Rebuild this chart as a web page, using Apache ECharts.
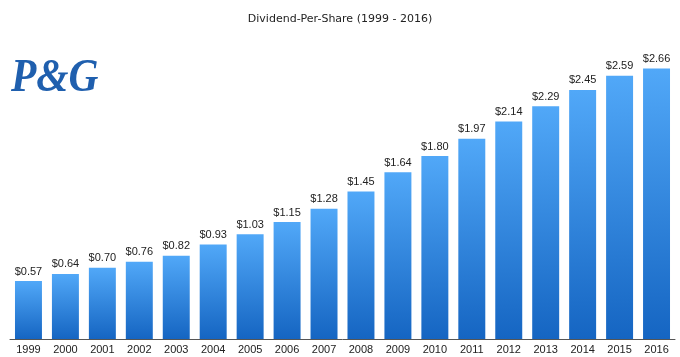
<!DOCTYPE html>
<html>
<head>
<meta charset="utf-8">
<script src="https://cdn.jsdelivr.net/npm/echarts@6/dist/echarts.min.js"></script>
<style>html,body{margin:0;padding:0;background:#fff;}#c{width:680px;height:357px;}</style>
</head>
<body>
<div id="c"></div>
<script>
const years = ['1999','2000','2001','2002','2003','2004','2005','2006','2007','2008','2009','2010','2011','2012','2013','2014','2015','2016'];
const dividends = [0.57,0.64,0.70,0.76,0.82,0.93,1.03,1.15,1.28,1.45,1.64,1.80,1.97,2.14,2.29,2.45,2.59,2.66];
const titleText = 'Dividend-Per-Share (1999 - 2016)';
const logoText = 'P&G';

const chart = echarts.init(document.getElementById('c'), null, {renderer:'canvas'});
chart.setOption({
  animation:false,
  backgroundColor:'#fff',
  title:{text:titleText,left:'center',top:9,textStyle:{fontFamily:'DejaVu Sans',fontSize:11,fontWeight:'normal',color:'#222'}},
  graphic:[{type:'text',x:11,y:56,scaleX:0.9,style:{text:logoText,fontFamily:'Liberation Serif',fontStyle:'italic',fontWeight:'bold',fontSize:46,fill:'#1f5fae'}}],
  grid:{left:10,right:5,top:34,bottom:18,containLabel:false},
  xAxis:{type:'category',data:years,
    axisLine:{lineStyle:{color:'#555',width:1}},axisTick:{show:false},
    axisLabel:{fontFamily:'Liberation Sans',fontSize:11,color:'#222',margin:5}},
  yAxis:{type:'value',min:0,max:3,show:false,splitLine:{show:false}},
  series:[{type:'bar',data:dividends,barCategoryGap:'27%',
    itemStyle:{color:new echarts.graphic.LinearGradient(0,0,0,1,[{offset:0,color:'#51a8f8'},{offset:1,color:'#1565c2'}])},
    label:{show:true,position:'top',distance:4,fontFamily:'Liberation Sans',fontSize:11,color:'#222',
      formatter:p=>'$'+p.value.toFixed(2)}}]
});
</script>
</body>
</html>
